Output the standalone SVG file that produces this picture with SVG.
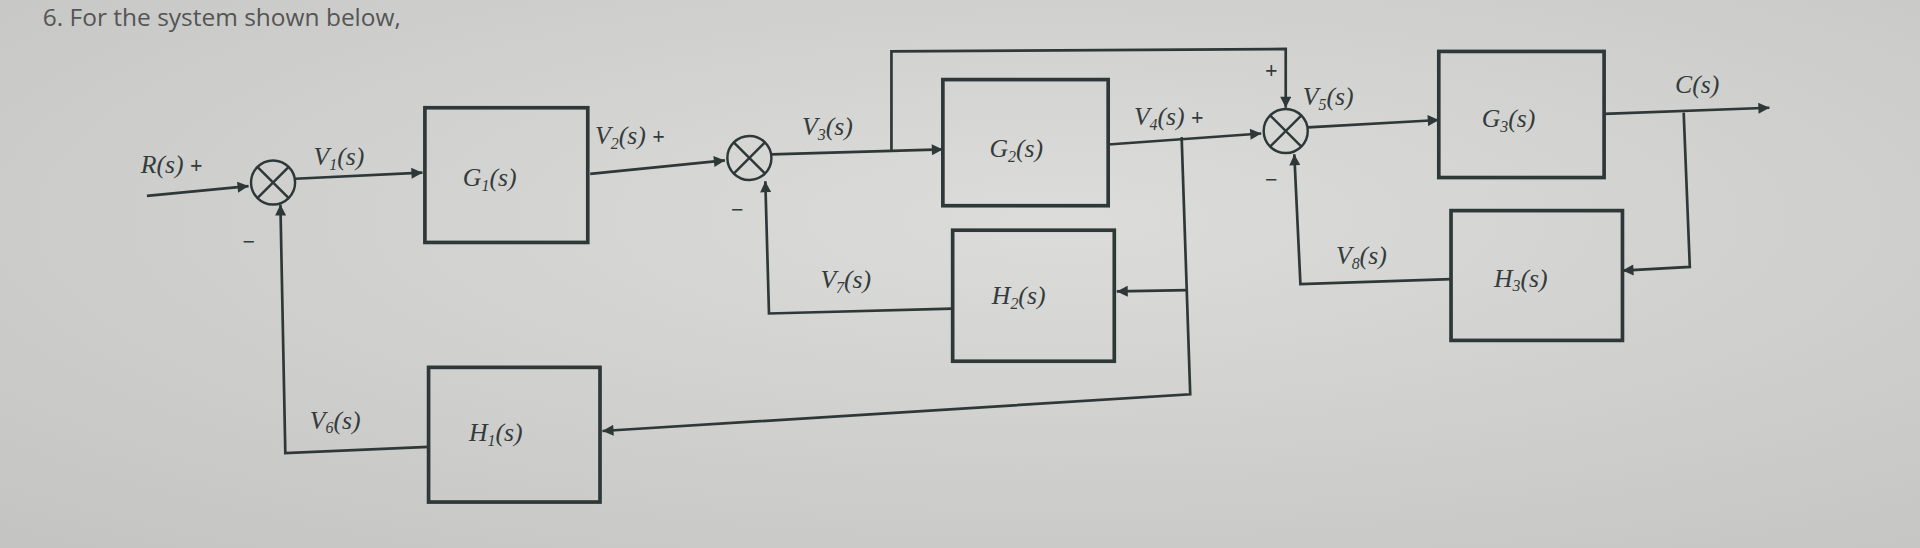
<svg xmlns="http://www.w3.org/2000/svg" width="1920" height="548" viewBox="0 0 1920 548">
<defs>
<marker id="ar" viewBox="0 0 10 10" refX="10" refY="5" markerWidth="14" markerHeight="9" orient="auto" markerUnits="userSpaceOnUse"><path d="M0,0 L10,5 L0,10 z" fill="#2e3838"/></marker>
<radialGradient id="bg" cx="0.55" cy="0.4" r="0.8"><stop offset="0" stop-color="#dcdcda"/><stop offset="1" stop-color="#c4c5c3"/></radialGradient>
</defs>
<style>
.b{fill:none;stroke:#2e3838;stroke-width:3}
.l{fill:none;stroke:#2e3838;stroke-width:2.2}
.s{fill:none;stroke:#2e3838;stroke-width:2}
text{font-family:"Liberation Serif",serif;font-style:italic;font-size:21px;fill:#333b3b}
.m{font-size:18px;font-style:normal;font-weight:bold}
.ti{font-family:"Open Sans","Liberation Sans",sans-serif;font-style:normal;font-size:20px;fill:#555}
</style>
<rect width="1920" height="548" fill="url(#bg)"/>
<g transform="scale(1.2245)">
<text class="ti" x="35" y="21">6.  For the system shown below,</text>
<g id="connectors">
<path class="l" d="M120,160 L203,152" marker-end="url(#ar)"/>
<path class="l" d="M241,146 L345,141" marker-end="url(#ar)"/>
<path class="l" d="M482,142 L592,131" marker-end="url(#ar)"/>
<path class="l" d="M630,126 L770,122" marker-end="url(#ar)"/>
<path class="l" d="M728,124 L728,42 L1050,40 L1050,88" marker-end="url(#ar)"/>
<path class="l" d="M905,118 L1030,109" marker-end="url(#ar)"/>
<path class="l" d="M965,112 L972,322 L492,352" marker-end="url(#ar)"/>
<path class="l" d="M970,237 L912,238" marker-end="url(#ar)"/>
<path class="l" d="M778,252 L628,256 L625,148" marker-end="url(#ar)"/>
<path class="l" d="M350,365 L233,370 L229,167" marker-end="url(#ar)"/>
<path class="l" d="M1068,104 L1175,98" marker-end="url(#ar)"/>
<path class="l" d="M1310,93 L1445,88" marker-end="url(#ar)"/>
<path class="l" d="M1375,92 L1380,218 L1325,221" marker-end="url(#ar)"/>
<path class="l" d="M1185,228 L1062,232 L1057,126" marker-end="url(#ar)"/>
</g>
<g id="sum1"><circle class="s" cx="223" cy="149" r="18"/><path class="s" d="M210,136 L236,162 M236,136 L210,162"/></g>
<g id="sum2"><circle class="s" cx="612" cy="129" r="18"/><path class="s" d="M599,116 L625,142 M625,116 L599,142"/></g>
<g id="sum3"><circle class="s" cx="1050" cy="107" r="18"/><path class="s" d="M1037,94 L1063,120 M1063,94 L1037,120"/></g>
<g id="G1"><rect class="b" x="347" y="88" width="133" height="110"/><text x="378" y="152">G<tspan font-size="13" dy="4">1</tspan><tspan dy="-4">(s)</tspan></text></g>
<g id="G2"><rect class="b" x="770" y="65" width="135" height="103"/><text x="808" y="128">G<tspan font-size="13" dy="4">2</tspan><tspan dy="-4">(s)</tspan></text></g>
<g id="G3"><rect class="b" x="1175" y="42" width="135" height="103"/><text x="1210" y="104">G<tspan font-size="13" dy="4">3</tspan><tspan dy="-4">(s)</tspan></text></g>
<g id="H1"><rect class="b" x="350" y="300" width="140" height="110"/><text x="383" y="360">H<tspan font-size="13" dy="4">1</tspan><tspan dy="-4">(s)</tspan></text></g>
<g id="H2"><rect class="b" x="778" y="188" width="132" height="107"/><text x="810" y="248">H<tspan font-size="13" dy="4">2</tspan><tspan dy="-4">(s)</tspan></text></g>
<g id="H3"><rect class="b" x="1185" y="172" width="140" height="106"/><text x="1220" y="234">H<tspan font-size="13" dy="4">3</tspan><tspan dy="-4">(s)</tspan></text></g>
<g id="labels">
<text x="115" y="141">R(s) <tspan class="m">+</tspan></text>
<text x="256" y="135">V<tspan font-size="13" dy="4">1</tspan><tspan dy="-4">(s)</tspan></text>
<text x="486" y="118">V<tspan font-size="13" dy="4">2</tspan><tspan dy="-4">(s) </tspan><tspan class="m">+</tspan></text>
<text x="655" y="110">V<tspan font-size="13" dy="4">3</tspan><tspan dy="-4">(s)</tspan></text>
<text x="926" y="102">V<tspan font-size="13" dy="4">4</tspan><tspan dy="-4">(s) </tspan><tspan class="m">+</tspan></text>
<text x="1064" y="86">V<tspan font-size="13" dy="4">5</tspan><tspan dy="-4">(s)</tspan></text>
<text x="1368" y="76">C(s)</text>
<text x="670" y="235">V<tspan font-size="13" dy="4">7</tspan><tspan dy="-4">(s)</tspan></text>
<text x="1091" y="216">V<tspan font-size="13" dy="4">8</tspan><tspan dy="-4">(s)</tspan></text>
<text x="253" y="350">V<tspan font-size="13" dy="4">6</tspan><tspan dy="-4">(s)</tspan></text>
<text class="m" x="1033" y="64">+</text>
<text class="m" x="198" y="203">−</text>
<text class="m" x="597" y="177">−</text>
<text class="m" x="1033" y="153">−</text>
</g>
</g>
</svg>
